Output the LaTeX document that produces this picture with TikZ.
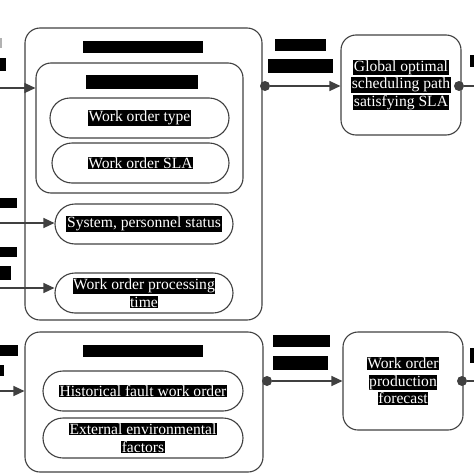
\documentclass[tikz,border=0pt]{standalone}
\usepackage{fontspec}
\setmainfont{Liberation Serif}
\usetikzlibrary{arrows.meta}
\definecolor{linegray}{HTML}{404040}
\newcommand{\hl}[1]{{\setlength{\fboxsep}{0.6pt}\colorbox{black}{\color{white}#1}}}
\tikzset{
  frame/.style = {draw=linegray, line width=1.1pt, rounded corners=15pt, inner sep=0pt, align=center},
  pill/.style  = {draw=linegray, line width=1.1pt, rounded corners=20pt, minimum height=40pt, inner sep=0pt, align=center},
  bar/.style   = {fill=black, inner sep=0pt},
  dot/.style   = {circle, fill=linegray, inner sep=0pt, minimum size=10pt},
  link/.style  = {draw=linegray, line width=1.3pt, -{Triangle[length=11pt,width=10pt]}},
  wire/.style  = {draw=linegray, line width=1.3pt}
}
\begin{document}
\begin{tikzpicture}[x = 1pt, y = -1pt,
                    font = \fontsize{15.6}{17.5}\selectfont]
  \useasboundingbox (0, 0) rectangle (474, 474);

  % upper group
  \node[frame, minimum width=237pt, minimum height=292pt] (sched) at (143.5, 174) {};
  \node[bar, minimum width=120pt, minimum height=12pt] (schedbar) at (143, 47) {};
  \node[frame, minimum width=207pt, minimum height=130pt] (order) at (139.5, 128) {};
  \node[bar, minimum width=112pt, minimum height=14pt] (orderbar) at (142, 82) {};
  \node[pill, minimum width=179pt] (type) at (139.5, 118) {\hl{Work order type}};
  \node[pill, minimum width=177pt] (sla) at (140.5, 163) {\hl{Work order SLA}};
  \node[pill, minimum width=178pt] (status) at (144, 224) {\hl{System, personnel status}};
  \node[pill, minimum width=178pt] (ptime) at (144, 293) {\hl{Work order processing}\\\hl{time}};

  % inputs on the left
  \node[bar, fill=gray!60, minimum width=2pt, minimum height=10pt] (lbar0) at (1, 43) {};
  \node[bar, minimum width=6pt, minimum height=13pt] (lbar1) at (3, 64.5) {};
  \node[bar, minimum width=17pt, minimum height=10pt] (lbar2) at (8.5, 203) {};
  \node[bar, minimum width=17pt, minimum height=10pt] (lbar3) at (8.5, 252) {};
  \node[bar, minimum width=11pt, minimum height=14pt] (lbar4) at (5.5, 273) {};
  \coordinate (inA) at (0, 88);
  \coordinate (inB) at (0, 223);
  \coordinate (inC) at (0, 288);
  \draw[link] (inA) -- (inA -| order.west);
  \draw[link] (inB) -- (inB -| status.west);
  \draw[link] (inC) -- (inC -| ptime.west);

  % output of upper group
  \node[dot] (outA) at (265, 86) {};
  \node[bar, minimum width=51pt, minimum height=12pt] (gbar1) at (300.5, 45) {};
  \node[bar, minimum width=65pt, minimum height=14pt] (gbar2) at (300.5, 66) {};
  \node[frame, minimum width=120pt, minimum height=100pt] (global) at (401, 85)
    {\hl{Global optimal}\\\hl{scheduling path}\\\hl{satisfying SLA}};
  \draw[link] (outA) -- (outA -| global.west);
  \node[dot] (outB) at (459, 86) {};
  \coordinate (endB) at (474, 86);
  \draw[wire] (outB) -- (endB);
  \node[bar, minimum width=4pt, minimum height=12pt] (rbar1) at (472, 61) {};

  % lower group
  \node[frame, minimum width=238pt, minimum height=140pt] (hist) at (144, 402) {};
  \node[bar, minimum width=120pt, minimum height=12pt] (histbar) at (143, 351) {};
  \node[pill, minimum width=200pt] (fault) at (143, 391) {\hl{Historical fault work order}};
  \node[pill, minimum width=200pt] (env) at (143, 438) {\hl{External environmental}\\\hl{factors}};
  \node[bar, minimum width=18pt, minimum height=11pt] (lbar5) at (9, 350.5) {};
  \node[bar, minimum width=4pt, minimum height=11pt] (lbar6) at (2, 370.5) {};
  \coordinate (inD) at (0, 391);
  \draw[link] (inD) -- (inD -| hist.west);

  % output of lower group
  \node[dot] (outC) at (267, 381) {};
  \node[bar, minimum width=57pt, minimum height=12pt] (fbar1) at (301.5, 341) {};
  \node[bar, minimum width=55pt, minimum height=14pt] (fbar2) at (300.5, 363) {};
  \node[frame, minimum width=120pt, minimum height=98pt] (forecast) at (403, 381)
    {\hl{Work order}\\\hl{production}\\\hl{forecast}};
  \draw[link] (outC) -- (outC -| forecast.west);
  \node[dot] (outD) at (462, 381) {};
  \coordinate (endD) at (474, 381);
  \draw[wire] (outD) -- (endD);
  \node[bar, minimum width=4pt, minimum height=15pt] (rbar2) at (472, 355.5) {};
\end{tikzpicture}
\end{document}
